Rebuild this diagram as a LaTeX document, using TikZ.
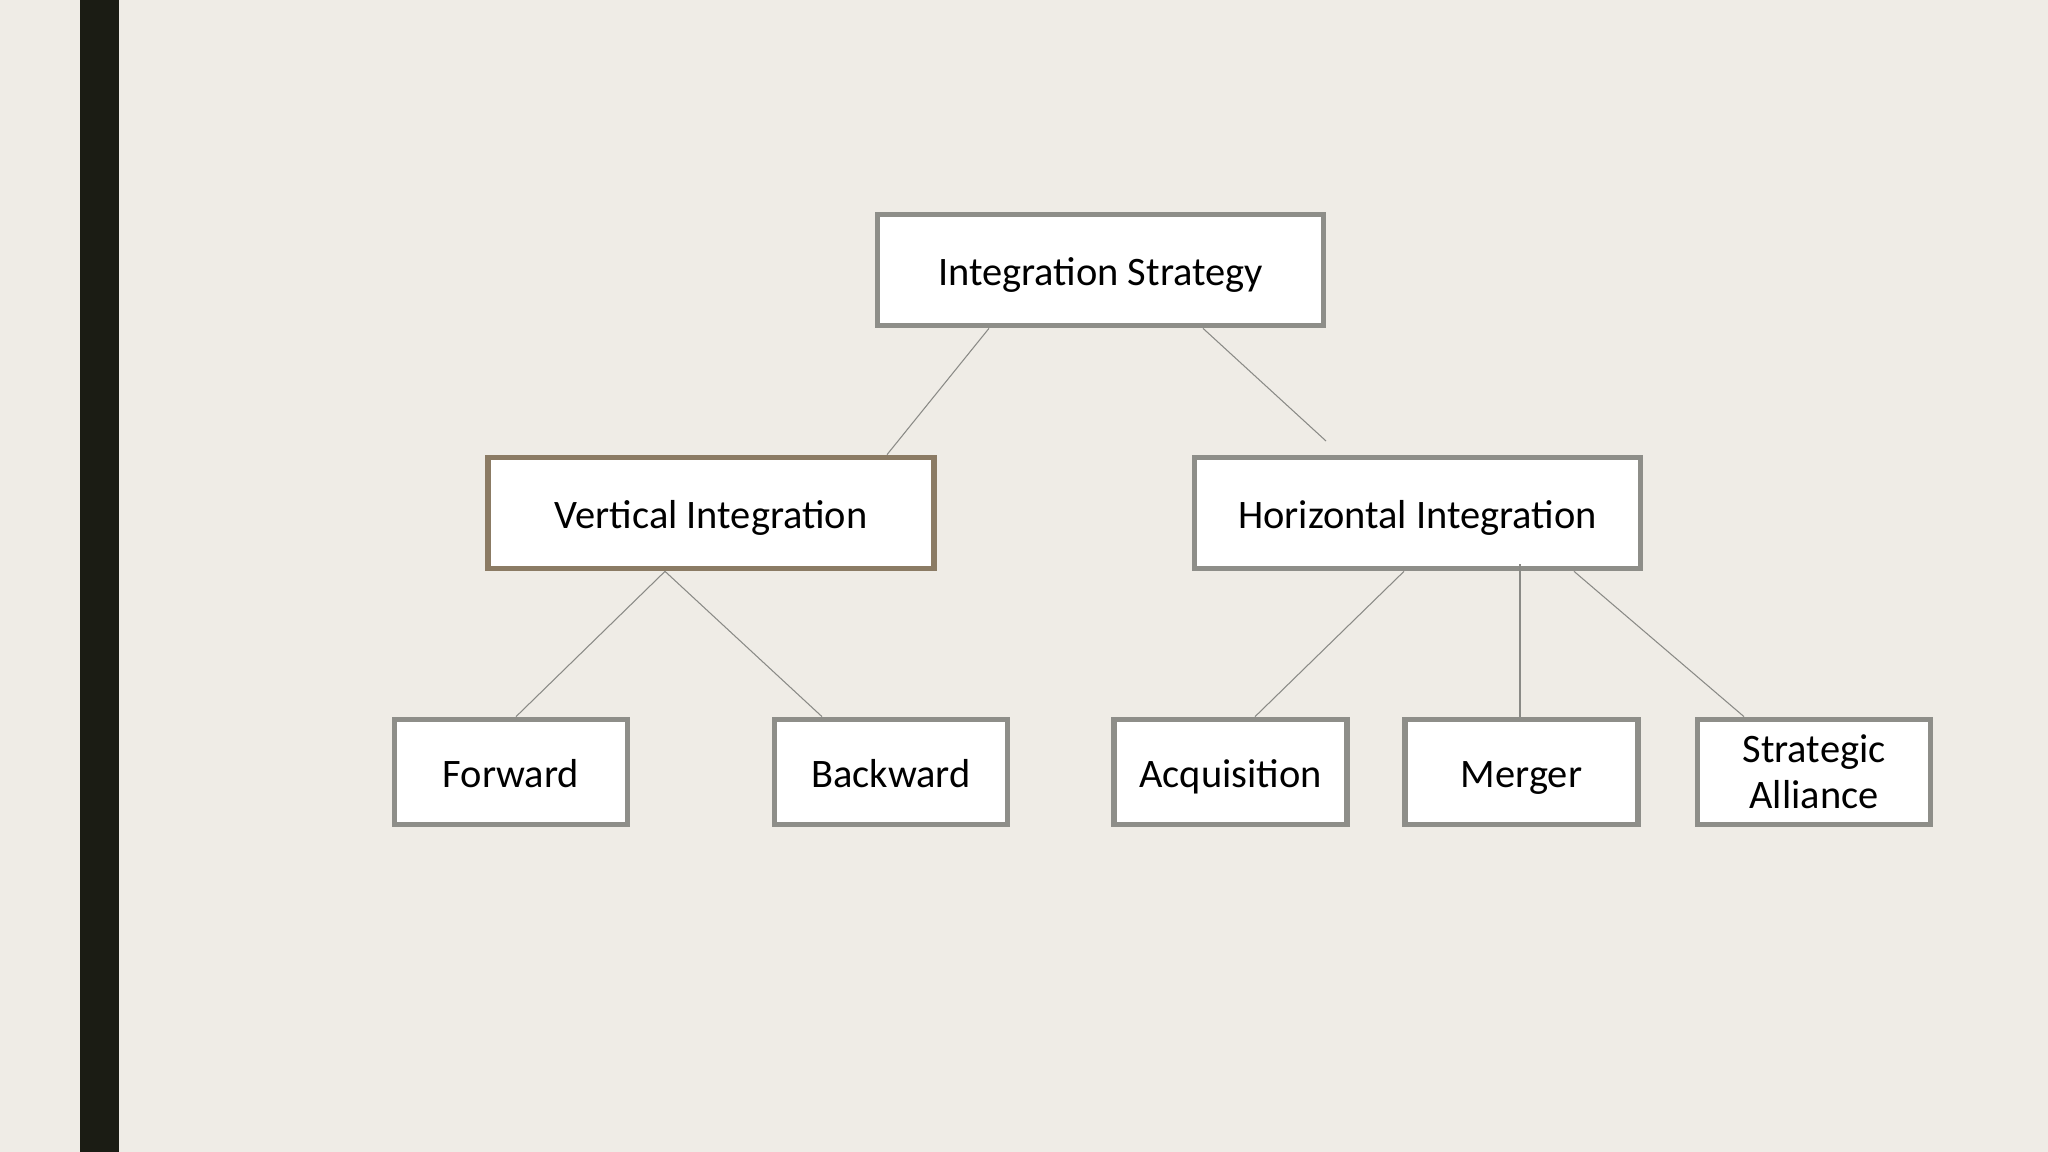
\documentclass[tikz,border=0pt]{standalone}
\usepackage{fontspec}
\setmainfont{Carlito}
\usepackage{tikz}
\usepackage{xcolor}
\definecolor{paper}{HTML}{EFECE6}
\definecolor{barcol}{HTML}{1B1C14}
\definecolor{boxgray}{HTML}{8E8E89}
\definecolor{boxbrown}{HTML}{8B7B64}
\definecolor{linegray}{HTML}{8A8A86}

\begin{document}
\begin{tikzpicture}[x=0.01cm,y=-0.01cm,
  box/.style={draw=boxgray,line width=1.6pt,fill=white,rectangle,
    inner sep=0pt,align=center,font=\fontsize{11.5}{13}\selectfont},
  oneline/.style={text height=1.0em,text depth=0.14em},
  bigbox/.style={box,oneline,minimum width=4.46cm,minimum height=1.11cm},
  smallsize/.style={box,minimum width=2.33cm,minimum height=1.05cm},
  smallbox/.style={smallsize,oneline},
  link/.style={draw=linegray,line width=0.3pt}]
\fill[paper] (0,0) rectangle (2048,1152);
\fill[barcol] (80,0) rectangle (119,1152);
\useasboundingbox (0,0) rectangle (2048,1152);
% levels of the chart
\node[bigbox] (strategy) at (1100.5,270) {Integration Strategy};
\node[bigbox,draw=boxbrown] (vertical) at (711,513) {Vertical Integration};
\node[bigbox] (horizontal) at (1417.5,513) {Horizontal Integration};
\node[smallbox] (forward) at (511,772) {Forward};
\node[smallbox] (backward) at (891,772) {Backward};
\node[smallbox] (acquisition) at (1230.5,772) {Acquisition};
\node[smallbox] (merger) at (1521.5,772) {Merger};
\node[smallsize] (alliance) at (1814,772) {Strategic\\Alliance};
\coordinate (hzend) at (1326,441);
% connectors
\draw[link] (strategy.south -| 989,0) -- (vertical.north -| 887,0);
\draw[link] (strategy.south -| 1203,0) -- (hzend);
\draw[link] (vertical.south -| 665,0) -- (forward.north -| 516,0);
\draw[link] (vertical.south -| 665,0) -- (backward.north -| 822,0);
\draw[link] (horizontal.south -| 1404,0) -- (acquisition.north -| 1255,0);
\draw[link] ([yshift=0.07cm]horizontal.south -| 1520,0) -- (merger.north -| 1520,0);
\draw[link] (horizontal.south -| 1574,0) -- (alliance.north -| 1744,0);
\end{tikzpicture}
\end{document}
